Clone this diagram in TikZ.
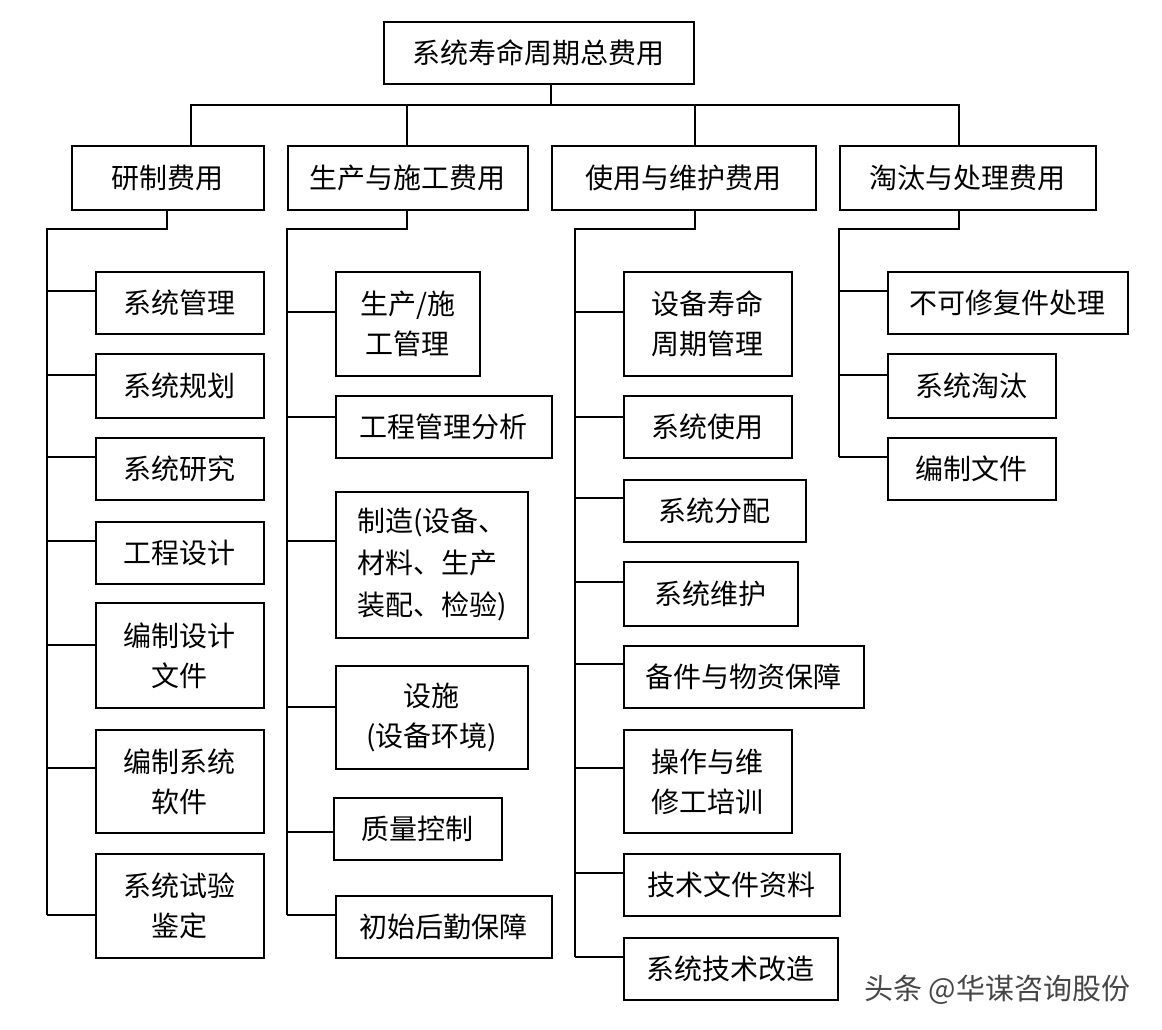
\documentclass[tikz,border=0pt]{standalone}
\usepackage{fontspec}
\setmainfont{Noto Sans CJK SC}
\begin{document}
\begin{tikzpicture}[x=1pt,y=-1pt,
  box/.style={draw, line width=1.8pt, inner sep=0pt, anchor=north west,
    font=\fontsize{28}{40}\selectfont, align=center},
  lbox/.style={box, align=left},
  link/.style={draw, line width=1.8pt, line join=miter}]
\useasboundingbox[fill=white] (0,0) rectangle (1162,1030);

% root and level 1
\node[box, minimum width=310pt, minimum height=62pt] (root) at (383,21) {系统寿命周期总费用};
\node[box, minimum width=192pt, minimum height=64pt] (A) at (71,145) {研制费用};
\node[box, minimum width=240pt, minimum height=64pt] (B) at (287,145) {生产与施工费用};
\node[box, minimum width=264pt, minimum height=64pt] (C) at (551,145) {使用与维护费用};
\node[box, minimum width=256pt, minimum height=64pt] (D) at (839,145) {淘汰与处理费用};

% column 1
\node[box, minimum width=168pt, minimum height=62pt] (a1) at (95,271) {系统管理};
\node[box, minimum width=168pt, minimum height=64pt] (a2) at (95,353) {系统规划};
\node[box, minimum width=168pt, minimum height=62pt] (a3) at (95,437) {系统研究};
\node[box, minimum width=168pt, minimum height=62pt] (a4) at (95,521) {工程设计};
\node[box, minimum width=168pt, minimum height=105pt] (a5) at (95,602) {编制设计\\文件};
\node[box, minimum width=168pt, minimum height=103pt] (a6) at (95,729) {编制系统\\软件};
\node[box, minimum width=168pt, minimum height=104pt] (a7) at (95,853) {系统试验\\鉴定};

% column 2
\node[box, minimum width=144pt, minimum height=104pt] (b1) at (335,271) {生产/施\\工管理};
\node[box, minimum width=216pt, minimum height=62pt] (b2) at (335,395) {工程管理分析};
\node[lbox, minimum width=192pt, minimum height=146pt,
  font=\fontsize{28}{42}\selectfont] (b3) at (335,491) {制造(设备、\\材料、生产\\装配、检验)};
\node[box, minimum width=192pt, minimum height=103pt] (b4) at (335,665) {设施\\(设备环境)};
\node[box, minimum width=168pt, minimum height=62pt] (b5) at (333,797) {质量控制};
\node[box, minimum width=216pt, minimum height=62pt] (b6) at (335,895) {初始后勤保障};

% column 3
\node[box, minimum width=168pt, minimum height=104pt] (c1) at (623,271) {设备寿命\\周期管理};
\node[box, minimum width=168pt, minimum height=62pt] (c2) at (623,395) {系统使用};
\node[box, minimum width=182pt, minimum height=62pt] (c3) at (623,479) {系统分配};
\node[box, minimum width=174pt, minimum height=64pt] (c4) at (623,561) {系统维护};
\node[box, minimum width=240pt, minimum height=62pt] (c5) at (623,645) {备件与物资保障};
\node[box, minimum width=168pt, minimum height=103pt] (c6) at (623,729) {操作与维\\修工培训};
\node[box, minimum width=216pt, minimum height=62pt] (c7) at (623,853) {技术文件资料};
\node[box, minimum width=214pt, minimum height=62pt] (c8) at (623,937) {系统技术改造};

% column 4
\node[box, minimum width=240pt, minimum height=62pt] (d1) at (887,271) {不可修复件处理};
\node[box, minimum width=168pt, minimum height=64pt] (d2) at (887,353) {系统淘汰};
\node[box, minimum width=168pt, minimum height=62pt] (d3) at (887,437) {编制文件};

% top bus
\coordinate (r0) at (551,105);
\coordinate (busA) at (191,105);
\coordinate (busB) at (407,105);
\coordinate (busC) at (695,105);
\coordinate (busD) at (959,105);
\draw[link] (root.south -| r0) -- (r0);
\draw[link] (A.north -| busA) -- (busA) -- (busD) -- (D.north -| busD);
\draw[link] (busB) -- (B.north -| busB);
\draw[link] (busC) -- (C.north -| busC);

% column 1 trunk
\coordinate (tA1) at (167,229);
\coordinate (tA2) at (47,229);
\coordinate (tA3) at (47,915);
\draw[link] (A.south -| tA1) -- (tA1) -- (tA2) -- (tA3);
\foreach \n/\y in {a1/291, a2/375, a3/457, a4/541, a5/645, a6/768, a7/915}{
  \coordinate (s\n) at (47,\y);
  \draw[link] (s\n) -- (s\n -| \n.west);
}

% column 2 trunk
\coordinate (tB1) at (407,229);
\coordinate (tB2) at (287,229);
\coordinate (tB3) at (287,915);
\draw[link] (B.south -| tB1) -- (tB1) -- (tB2) -- (tB3);
\foreach \n/\y in {b1/312, b2/417, b3/541, b4/707, b5/832, b6/915}{
  \coordinate (s\n) at (287,\y);
  \draw[link] (s\n) -- (s\n -| \n.west);
}

% column 3 trunk
\coordinate (tC1) at (695,229);
\coordinate (tC2) at (575,229);
\coordinate (tC3) at (575,957);
\draw[link] (C.south -| tC1) -- (tC1) -- (tC2) -- (tC3);
\foreach \n/\y in {c1/312, c2/417, c3/498, c4/582, c5/664, c6/768, c7/873, c8/957}{
  \coordinate (s\n) at (575,\y);
  \draw[link] (s\n) -- (s\n -| \n.west);
}

% column 4 trunk
\coordinate (tD1) at (959,229);
\coordinate (tD2) at (839,229);
\coordinate (tD3) at (839,457);
\draw[link] (D.south -| tD1) -- (tD1) -- (tD2) -- (tD3);
\foreach \n/\y in {d1/291, d2/375, d3/457}{
  \coordinate (s\n) at (839,\y);
  \draw[link] (s\n) -- (s\n -| \n.west);
}

% watermark
\node[anchor=west, inner sep=0pt, text=black!72, font=\fontsize{29}{34}\selectfont] (wm) at (864,990) {头条 @华谋咨询股份};
\end{tikzpicture}
\end{document}
